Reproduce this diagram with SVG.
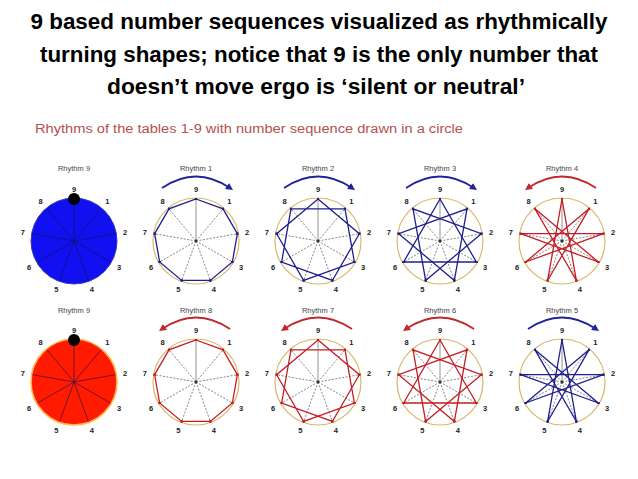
<svg xmlns="http://www.w3.org/2000/svg" xmlns:xlink="http://www.w3.org/1999/xlink" width="638" height="479" viewBox="0 0 638 479">
<style>
.title{font-family:"Liberation Sans",Arial,sans-serif;font-weight:bold;font-size:22px;fill:#000;text-anchor:middle}
.sub{font-family:"Liberation Sans",Arial,sans-serif;font-size:12px;fill:#b5514e}
.rt{font-family:"Liberation Sans",Arial,sans-serif;font-size:7.5px;fill:#444;text-anchor:middle}
.num{font-family:"Liberation Sans",Arial,sans-serif;font-size:7.5px;font-weight:bold;fill:#222;text-anchor:middle}
.ring{fill:none;stroke:#d8b868;stroke-width:1.2}
.spk{stroke:#333;stroke-width:0.6;stroke-dasharray:2 1.5}
.shape{fill:none;stroke-width:1.3;stroke-linejoin:miter}
.arrB{fill:none;stroke:#22229a;stroke-width:1.8}
.arrR{fill:none;stroke:#c0282c;stroke-width:1.8}
</style>
<defs>
<marker id="headB" viewBox="0 0 10 10" refX="5" refY="5" markerWidth="4" markerHeight="4" orient="auto" markerUnits="strokeWidth"><path d="M0,0 L10,5 L0,10 z" fill="#22229a"/></marker>
<marker id="headR" viewBox="0 0 10 10" refX="5" refY="5" markerWidth="4" markerHeight="4" orient="auto" markerUnits="strokeWidth"><path d="M0,0 L10,5 L0,10 z" fill="#c0282c"/></marker>
<marker id="dotB" viewBox="0 0 4 4" refX="2" refY="2" markerWidth="2.2" markerHeight="2.2" markerUnits="strokeWidth"><circle cx="2" cy="2" r="2" fill="#1f1f8f"/></marker>
<marker id="dotR" viewBox="0 0 4 4" refX="2" refY="2" markerWidth="2.2" markerHeight="2.2" markerUnits="strokeWidth"><circle cx="2" cy="2" r="2" fill="#c41e24"/></marker>
<g id="labels">
<text class="num" x="0" y="-49.5">9</text>
<text class="num" x="33.4" y="-37.3">1</text>
<text class="num" x="51.2" y="-6.5">2</text>
<text class="num" x="45" y="28.5">3</text>
<text class="num" x="17.8" y="51.4">4</text>
<text class="num" x="-17.8" y="51.4">5</text>
<text class="num" x="-45" y="28.5">6</text>
<text class="num" x="-51.2" y="-6.5">7</text>
<text class="num" x="-33.4" y="-37.3">8</text>
</g>
<g id="spokes">
<line class="spk" x1="0" y1="0" x2="27" y2="-32.17"/>
<line class="spk" x1="0" y1="0" x2="41.36" y2="-7.29"/>
<line class="spk" x1="0" y1="0" x2="36.37" y2="21"/>
<line class="spk" x1="0" y1="0" x2="14.36" y2="39.47"/>
<line class="spk" x1="0" y1="0" x2="-14.36" y2="39.47"/>
<line class="spk" x1="0" y1="0" x2="-36.37" y2="21"/>
<line class="spk" x1="0" y1="0" x2="-41.36" y2="-7.29"/>
<line class="spk" x1="0" y1="0" x2="-27" y2="-32.17"/>
<line x1="0" y1="0" x2="0" y2="-42" stroke="#777" stroke-width="0.8"/>
<circle cx="0" cy="0" r="1.4" fill="#333"/>
</g>
<g id="fillspokes" stroke="#101050" stroke-width="0.6">
<line x1="0" y1="0" x2="0" y2="-42"/>
<line x1="0" y1="0" x2="27" y2="-32.17"/>
<line x1="0" y1="0" x2="41.36" y2="-7.29"/>
<line x1="0" y1="0" x2="36.37" y2="21"/>
<line x1="0" y1="0" x2="14.36" y2="39.47"/>
<line x1="0" y1="0" x2="-14.36" y2="39.47"/>
<line x1="0" y1="0" x2="-36.37" y2="21"/>
<line x1="0" y1="0" x2="-41.36" y2="-7.29"/>
<line x1="0" y1="0" x2="-27" y2="-32.17"/>
</g>
<polygon id="nonagon" class="shape" points="0,-42 27,-32.17 41.36,-7.29 36.37,21 14.36,39.47 -14.36,39.47 -36.37,21 -41.36,-7.29 -27,-32.17"/>
<polygon id="star2" class="shape" points="0,-42 41.36,-7.29 14.36,39.47 -36.37,21 -27,-32.17 27,-32.17 36.37,21 -14.36,39.47 -41.36,-7.29"/>
<polygon id="star4" class="shape" points="0,-42 14.36,39.47 -27,-32.17 36.37,21 -41.36,-7.29 41.36,-7.29 -36.37,21 27,-32.17 -14.36,39.47"/>
<g id="tri">
<polygon class="shape" points="0,-42 36.37,21 -36.37,21"/>
<polygon class="shape" points="27,-32.17 14.36,39.47 -41.36,-7.29"/>
<polygon class="shape" points="41.36,-7.29 -14.36,39.47 -27,-32.17"/>
</g>
<path id="arcCW" d="M-34,-53 Q0,-76 34,-53"/>
<path id="arcCCW" d="M34,-53 Q0,-76 -34,-53"/>
</defs>

<text class="title" x="319" y="29" textLength="577" lengthAdjust="spacingAndGlyphs">9 based number sequences visualized as rhythmically</text>
<text class="title" x="319" y="62" textLength="558" lengthAdjust="spacingAndGlyphs">turning shapes; notice that 9 is the only number that</text>
<text class="title" x="316" y="94" textLength="418" lengthAdjust="spacingAndGlyphs">doesn’t move ergo is ‘silent or neutral’</text>
<text class="sub" x="35" y="133" textLength="428" lengthAdjust="spacingAndGlyphs">Rhythms of the tables 1-9 with number sequence drawn in a circle</text>

<g id="r1-rhythm9" transform="translate(74,241)">
<text class="rt" x="0" y="-70">Rhythm 9</text>
<circle r="43" fill="#1010f0" stroke="#3a3ab0" stroke-width="1"/>
<use href="#fillspokes"/>
<circle cx="0" cy="-42" r="6" fill="#000"/>
<use href="#labels"/>
</g>
<g id="r1-rhythm1" transform="translate(196,241)">
<text class="rt" x="0" y="-70">Rhythm 1</text>
<use href="#arcCW" class="arrB" marker-end="url(#headB)"/>
<circle r="43" class="ring"/>
<use href="#spokes"/>
<use href="#nonagon" stroke="#1f1f8f" marker-start="url(#dotB)" marker-mid="url(#dotB)"/>
<use href="#labels"/>
</g>
<g id="r1-rhythm2" transform="translate(318,241)">
<text class="rt" x="0" y="-70">Rhythm 2</text>
<use href="#arcCW" class="arrB" marker-end="url(#headB)"/>
<circle r="43" class="ring"/>
<use href="#spokes"/>
<use href="#star2" stroke="#1f1f8f" marker-start="url(#dotB)" marker-mid="url(#dotB)"/>
<use href="#labels"/>
</g>
<g id="r1-rhythm3" transform="translate(440,241)">
<text class="rt" x="0" y="-70">Rhythm 3</text>
<use href="#arcCW" class="arrB" marker-end="url(#headB)"/>
<circle r="43" class="ring"/>
<use href="#spokes"/>
<use href="#tri" stroke="#1f1f8f" marker-start="url(#dotB)" marker-mid="url(#dotB)"/>
<use href="#labels"/>
</g>
<g id="r1-rhythm4" transform="translate(562,241)">
<text class="rt" x="0" y="-70">Rhythm 4</text>
<use href="#arcCCW" class="arrR" marker-end="url(#headR)"/>
<circle r="43" class="ring"/>
<use href="#spokes"/>
<use href="#star4" stroke="#c41e24" marker-start="url(#dotR)" marker-mid="url(#dotR)"/>
<use href="#labels"/>
</g>

<g id="r2-rhythm9" transform="translate(74,382)">
<text class="rt" x="0" y="-69">Rhythm 9</text>
<circle r="43" fill="#ff1a00" stroke="#ffb850" stroke-width="1.6"/>
<use href="#fillspokes"/>
<circle cx="0" cy="-42" r="6" fill="#000"/>
<use href="#labels"/>
</g>
<g id="r2-rhythm8" transform="translate(196,382)">
<text class="rt" x="0" y="-69">Rhythm 8</text>
<use href="#arcCCW" class="arrR" marker-end="url(#headR)"/>
<circle r="43" class="ring"/>
<use href="#spokes"/>
<use href="#nonagon" stroke="#c41e24" marker-start="url(#dotR)" marker-mid="url(#dotR)"/>
<use href="#labels"/>
</g>
<g id="r2-rhythm7" transform="translate(318,382)">
<text class="rt" x="0" y="-69">Rhythm 7</text>
<use href="#arcCCW" class="arrR" marker-end="url(#headR)"/>
<circle r="43" class="ring"/>
<use href="#spokes"/>
<use href="#star2" stroke="#c41e24" marker-start="url(#dotR)" marker-mid="url(#dotR)"/>
<use href="#labels"/>
</g>
<g id="r2-rhythm6" transform="translate(440,382)">
<text class="rt" x="0" y="-69">Rhythm 6</text>
<use href="#arcCCW" class="arrR" marker-end="url(#headR)"/>
<circle r="43" class="ring"/>
<use href="#spokes"/>
<use href="#tri" stroke="#c41e24" marker-start="url(#dotR)" marker-mid="url(#dotR)"/>
<use href="#labels"/>
</g>
<g id="r2-rhythm5" transform="translate(562,382)">
<text class="rt" x="0" y="-69">Rhythm 5</text>
<use href="#arcCW" class="arrB" marker-end="url(#headB)"/>
<circle r="43" class="ring"/>
<use href="#spokes"/>
<use href="#star4" stroke="#1f1f8f" marker-start="url(#dotB)" marker-mid="url(#dotB)"/>
<use href="#labels"/>
</g>
</svg>
